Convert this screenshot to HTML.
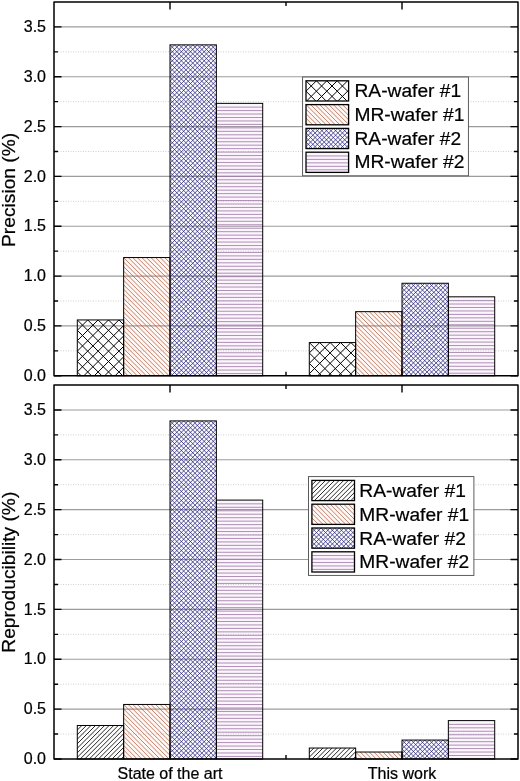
<!DOCTYPE html><html><head><meta charset="utf-8"><title>Chart</title>
<style>html,body{margin:0;padding:0;background:#fff}svg{display:block}text{font-family:"Liberation Sans", Arial, sans-serif;fill:#000;stroke:#000;stroke-width:0.22px}</style></head><body>
<svg width="520" height="781" viewBox="0 0 520 781">
<rect width="520" height="781" fill="#fff"/>
<line x1="58.0" x2="518.0" y1="350.83" y2="350.83" stroke="#d0d0d0" stroke-width="1" stroke-dasharray="1 1.5"/>
<line x1="54.0" x2="518.0" y1="325.92" y2="325.92" stroke="#9c9c9c" stroke-width="1.1"/>
<line x1="58.0" x2="518.0" y1="301.00" y2="301.00" stroke="#d0d0d0" stroke-width="1" stroke-dasharray="1 1.5"/>
<line x1="54.0" x2="518.0" y1="276.08" y2="276.08" stroke="#9c9c9c" stroke-width="1.1"/>
<line x1="58.0" x2="518.0" y1="251.17" y2="251.17" stroke="#d0d0d0" stroke-width="1" stroke-dasharray="1 1.5"/>
<line x1="54.0" x2="518.0" y1="226.25" y2="226.25" stroke="#9c9c9c" stroke-width="1.1"/>
<line x1="58.0" x2="518.0" y1="201.33" y2="201.33" stroke="#d0d0d0" stroke-width="1" stroke-dasharray="1 1.5"/>
<line x1="54.0" x2="518.0" y1="176.42" y2="176.42" stroke="#9c9c9c" stroke-width="1.1"/>
<line x1="58.0" x2="518.0" y1="151.50" y2="151.50" stroke="#d0d0d0" stroke-width="1" stroke-dasharray="1 1.5"/>
<line x1="54.0" x2="518.0" y1="126.58" y2="126.58" stroke="#9c9c9c" stroke-width="1.1"/>
<line x1="58.0" x2="518.0" y1="101.67" y2="101.67" stroke="#d0d0d0" stroke-width="1" stroke-dasharray="1 1.5"/>
<line x1="54.0" x2="518.0" y1="76.75" y2="76.75" stroke="#9c9c9c" stroke-width="1.1"/>
<line x1="58.0" x2="518.0" y1="51.83" y2="51.83" stroke="#d0d0d0" stroke-width="1" stroke-dasharray="1 1.5"/>
<line x1="54.0" x2="518.0" y1="26.92" y2="26.92" stroke="#9c9c9c" stroke-width="1.1"/>
<path d="M54.0 375.75h7.5M518.0 375.75h-7.5" stroke="#000" stroke-width="1.4"/>
<text x="46" y="380.95" font-size="16" text-anchor="end">0.0</text>
<path d="M54.0 350.83h4M518.0 350.83h-4" stroke="#000" stroke-width="1.4"/>
<path d="M54.0 325.92h7.5M518.0 325.92h-7.5" stroke="#000" stroke-width="1.4"/>
<text x="46" y="331.12" font-size="16" text-anchor="end">0.5</text>
<path d="M54.0 301.00h4M518.0 301.00h-4" stroke="#000" stroke-width="1.4"/>
<path d="M54.0 276.08h7.5M518.0 276.08h-7.5" stroke="#000" stroke-width="1.4"/>
<text x="46" y="281.28" font-size="16" text-anchor="end">1.0</text>
<path d="M54.0 251.17h4M518.0 251.17h-4" stroke="#000" stroke-width="1.4"/>
<path d="M54.0 226.25h7.5M518.0 226.25h-7.5" stroke="#000" stroke-width="1.4"/>
<text x="46" y="231.45" font-size="16" text-anchor="end">1.5</text>
<path d="M54.0 201.33h4M518.0 201.33h-4" stroke="#000" stroke-width="1.4"/>
<path d="M54.0 176.42h7.5M518.0 176.42h-7.5" stroke="#000" stroke-width="1.4"/>
<text x="46" y="181.62" font-size="16" text-anchor="end">2.0</text>
<path d="M54.0 151.50h4M518.0 151.50h-4" stroke="#000" stroke-width="1.4"/>
<path d="M54.0 126.58h7.5M518.0 126.58h-7.5" stroke="#000" stroke-width="1.4"/>
<text x="46" y="131.78" font-size="16" text-anchor="end">2.5</text>
<path d="M54.0 101.67h4M518.0 101.67h-4" stroke="#000" stroke-width="1.4"/>
<path d="M54.0 76.75h7.5M518.0 76.75h-7.5" stroke="#000" stroke-width="1.4"/>
<text x="46" y="81.95" font-size="16" text-anchor="end">3.0</text>
<path d="M54.0 51.83h4M518.0 51.83h-4" stroke="#000" stroke-width="1.4"/>
<path d="M54.0 26.92h7.5M518.0 26.92h-7.5" stroke="#000" stroke-width="1.4"/>
<text x="46" y="32.12" font-size="16" text-anchor="end">3.5</text>
<path d="M170 2.0v7.5M170 375.75v-7.5" stroke="#000" stroke-width="1.4"/>
<path d="M286 2.0v4M286 375.75v-4" stroke="#000" stroke-width="1.4"/>
<path d="M402 2.0v7.5M402 375.75v-7.5" stroke="#000" stroke-width="1.4"/>
<clipPath id="c1"><rect x="77.3" y="319.94" width="46.35" height="55.81"/></clipPath>
<path clip-path="url(#c1)" d="M14.9 319.94l55.81 55.81M25.3 319.94l55.81 55.81M35.7 319.94l55.81 55.81M46.1 319.94l55.81 55.81M56.5 319.94l55.81 55.81M66.9 319.94l55.81 55.81M77.3 319.94l55.81 55.81M87.7 319.94l55.81 55.81M98.1 319.94l55.81 55.81M108.5 319.94l55.81 55.81M118.9 319.94l55.81 55.81M77.3 319.94l-55.81 55.81M87.7 319.94l-55.81 55.81M98.1 319.94l-55.81 55.81M108.5 319.94l-55.81 55.81M118.9 319.94l-55.81 55.81M129.3 319.94l-55.81 55.81M139.7 319.94l-55.81 55.81M150.1 319.94l-55.81 55.81M160.5 319.94l-55.81 55.81M170.9 319.94l-55.81 55.81" stroke="#000" stroke-width="1.0" fill="none"/>
<rect x="77.3" y="319.94" width="46.35" height="55.81" fill="none" stroke="#000" stroke-width="1.0"/>
<clipPath id="c2"><rect x="123.65" y="257.55" width="46.35" height="118.2"/></clipPath>
<rect x="123.65" y="257.55" width="46.35" height="118.2" fill="#ff8855" fill-opacity="0.07"/>
<path clip-path="url(#c2)" d="M5.35 257.55l118.2 118.2M9.9 257.55l118.2 118.2M14.45 257.55l118.2 118.2M19 257.55l118.2 118.2M23.55 257.55l118.2 118.2M28.1 257.55l118.2 118.2M32.65 257.55l118.2 118.2M37.2 257.55l118.2 118.2M41.75 257.55l118.2 118.2M46.3 257.55l118.2 118.2M50.85 257.55l118.2 118.2M55.4 257.55l118.2 118.2M59.95 257.55l118.2 118.2M64.5 257.55l118.2 118.2M69.05 257.55l118.2 118.2M73.6 257.55l118.2 118.2M78.15 257.55l118.2 118.2M82.7 257.55l118.2 118.2M87.25 257.55l118.2 118.2M91.8 257.55l118.2 118.2M96.35 257.55l118.2 118.2M100.9 257.55l118.2 118.2M105.45 257.55l118.2 118.2M110 257.55l118.2 118.2M114.55 257.55l118.2 118.2M119.1 257.55l118.2 118.2M123.65 257.55l118.2 118.2M128.2 257.55l118.2 118.2M132.75 257.55l118.2 118.2M137.3 257.55l118.2 118.2M141.85 257.55l118.2 118.2M146.4 257.55l118.2 118.2M150.95 257.55l118.2 118.2M155.5 257.55l118.2 118.2M160.05 257.55l118.2 118.2M164.6 257.55l118.2 118.2M169.15 257.55l118.2 118.2" stroke="#ae553a" stroke-width="0.74" fill="none"/>
<rect x="123.65" y="257.55" width="46.35" height="118.2" fill="none" stroke="#000" stroke-width="1.0"/>
<clipPath id="c3"><rect x="170" y="44.86" width="46.35" height="330.89"/></clipPath>
<rect x="170" y="44.86" width="46.35" height="330.89" fill="#5040ff" fill-opacity="0.04"/>
<path clip-path="url(#c3)" d="M-162.15 44.86l330.89 330.89M-157.6 44.86l330.89 330.89M-153.05 44.86l330.89 330.89M-148.5 44.86l330.89 330.89M-143.95 44.86l330.89 330.89M-139.4 44.86l330.89 330.89M-134.85 44.86l330.89 330.89M-130.3 44.86l330.89 330.89M-125.75 44.86l330.89 330.89M-121.2 44.86l330.89 330.89M-116.65 44.86l330.89 330.89M-112.1 44.86l330.89 330.89M-107.55 44.86l330.89 330.89M-103 44.86l330.89 330.89M-98.45 44.86l330.89 330.89M-93.9 44.86l330.89 330.89M-89.35 44.86l330.89 330.89M-84.8 44.86l330.89 330.89M-80.25 44.86l330.89 330.89M-75.7 44.86l330.89 330.89M-71.15 44.86l330.89 330.89M-66.6 44.86l330.89 330.89M-62.05 44.86l330.89 330.89M-57.5 44.86l330.89 330.89M-52.95 44.86l330.89 330.89M-48.4 44.86l330.89 330.89M-43.85 44.86l330.89 330.89M-39.3 44.86l330.89 330.89M-34.75 44.86l330.89 330.89M-30.2 44.86l330.89 330.89M-25.65 44.86l330.89 330.89M-21.1 44.86l330.89 330.89M-16.55 44.86l330.89 330.89M-12 44.86l330.89 330.89M-7.45 44.86l330.89 330.89M-2.9 44.86l330.89 330.89M1.65 44.86l330.89 330.89M6.2 44.86l330.89 330.89M10.75 44.86l330.89 330.89M15.3 44.86l330.89 330.89M19.85 44.86l330.89 330.89M24.4 44.86l330.89 330.89M28.95 44.86l330.89 330.89M33.5 44.86l330.89 330.89M38.05 44.86l330.89 330.89M42.6 44.86l330.89 330.89M47.15 44.86l330.89 330.89M51.7 44.86l330.89 330.89M56.25 44.86l330.89 330.89M60.8 44.86l330.89 330.89M65.35 44.86l330.89 330.89M69.9 44.86l330.89 330.89M74.45 44.86l330.89 330.89M79 44.86l330.89 330.89M83.55 44.86l330.89 330.89M88.1 44.86l330.89 330.89M92.65 44.86l330.89 330.89M97.2 44.86l330.89 330.89M101.75 44.86l330.89 330.89M106.3 44.86l330.89 330.89M110.85 44.86l330.89 330.89M115.4 44.86l330.89 330.89M119.95 44.86l330.89 330.89M124.5 44.86l330.89 330.89M129.05 44.86l330.89 330.89M133.6 44.86l330.89 330.89M138.15 44.86l330.89 330.89M142.7 44.86l330.89 330.89M147.25 44.86l330.89 330.89M151.8 44.86l330.89 330.89M156.35 44.86l330.89 330.89M160.9 44.86l330.89 330.89M165.45 44.86l330.89 330.89M170 44.86l330.89 330.89M174.55 44.86l330.89 330.89M179.1 44.86l330.89 330.89M183.65 44.86l330.89 330.89M188.2 44.86l330.89 330.89M192.75 44.86l330.89 330.89M197.3 44.86l330.89 330.89M201.85 44.86l330.89 330.89M206.4 44.86l330.89 330.89M210.95 44.86l330.89 330.89M215.5 44.86l330.89 330.89M170 44.86l-330.89 330.89M174.55 44.86l-330.89 330.89M179.1 44.86l-330.89 330.89M183.65 44.86l-330.89 330.89M188.2 44.86l-330.89 330.89M192.75 44.86l-330.89 330.89M197.3 44.86l-330.89 330.89M201.85 44.86l-330.89 330.89M206.4 44.86l-330.89 330.89M210.95 44.86l-330.89 330.89M215.5 44.86l-330.89 330.89M220.05 44.86l-330.89 330.89M224.6 44.86l-330.89 330.89M229.15 44.86l-330.89 330.89M233.7 44.86l-330.89 330.89M238.25 44.86l-330.89 330.89M242.8 44.86l-330.89 330.89M247.35 44.86l-330.89 330.89M251.9 44.86l-330.89 330.89M256.45 44.86l-330.89 330.89M261 44.86l-330.89 330.89M265.55 44.86l-330.89 330.89M270.1 44.86l-330.89 330.89M274.65 44.86l-330.89 330.89M279.2 44.86l-330.89 330.89M283.75 44.86l-330.89 330.89M288.3 44.86l-330.89 330.89M292.85 44.86l-330.89 330.89M297.4 44.86l-330.89 330.89M301.95 44.86l-330.89 330.89M306.5 44.86l-330.89 330.89M311.05 44.86l-330.89 330.89M315.6 44.86l-330.89 330.89M320.15 44.86l-330.89 330.89M324.7 44.86l-330.89 330.89M329.25 44.86l-330.89 330.89M333.8 44.86l-330.89 330.89M338.35 44.86l-330.89 330.89M342.9 44.86l-330.89 330.89M347.45 44.86l-330.89 330.89M352 44.86l-330.89 330.89M356.55 44.86l-330.89 330.89M361.1 44.86l-330.89 330.89M365.65 44.86l-330.89 330.89M370.2 44.86l-330.89 330.89M374.75 44.86l-330.89 330.89M379.3 44.86l-330.89 330.89M383.85 44.86l-330.89 330.89M388.4 44.86l-330.89 330.89M392.95 44.86l-330.89 330.89M397.5 44.86l-330.89 330.89M402.05 44.86l-330.89 330.89M406.6 44.86l-330.89 330.89M411.15 44.86l-330.89 330.89M415.7 44.86l-330.89 330.89M420.25 44.86l-330.89 330.89M424.8 44.86l-330.89 330.89M429.35 44.86l-330.89 330.89M433.9 44.86l-330.89 330.89M438.45 44.86l-330.89 330.89M443 44.86l-330.89 330.89M447.55 44.86l-330.89 330.89M452.1 44.86l-330.89 330.89M456.65 44.86l-330.89 330.89M461.2 44.86l-330.89 330.89M465.75 44.86l-330.89 330.89M470.3 44.86l-330.89 330.89M474.85 44.86l-330.89 330.89M479.4 44.86l-330.89 330.89M483.95 44.86l-330.89 330.89M488.5 44.86l-330.89 330.89M493.05 44.86l-330.89 330.89M497.6 44.86l-330.89 330.89M502.15 44.86l-330.89 330.89M506.7 44.86l-330.89 330.89M511.25 44.86l-330.89 330.89M515.8 44.86l-330.89 330.89M520.35 44.86l-330.89 330.89M524.9 44.86l-330.89 330.89M529.45 44.86l-330.89 330.89M534 44.86l-330.89 330.89M538.55 44.86l-330.89 330.89M543.1 44.86l-330.89 330.89" stroke="#251f72" stroke-width="0.74" fill="none"/>
<rect x="170" y="44.86" width="46.35" height="330.89" fill="none" stroke="#000" stroke-width="1.0"/>
<clipPath id="c4"><rect x="216.35" y="103.36" width="46.35" height="272.39"/></clipPath>
<rect x="216.35" y="103.36" width="46.35" height="272.39" fill="#c070d8" fill-opacity="0.07"/>
<path clip-path="url(#c4)" d="M216.35 107.12h46.35M216.35 110.58h46.35M216.35 114.04h46.35M216.35 117.5h46.35M216.35 120.96h46.35M216.35 124.42h46.35M216.35 127.88h46.35M216.35 131.34h46.35M216.35 134.8h46.35M216.35 138.26h46.35M216.35 141.72h46.35M216.35 145.18h46.35M216.35 148.64h46.35M216.35 152.1h46.35M216.35 155.56h46.35M216.35 159.02h46.35M216.35 162.48h46.35M216.35 165.94h46.35M216.35 169.4h46.35M216.35 172.86h46.35M216.35 176.32h46.35M216.35 179.78h46.35M216.35 183.24h46.35M216.35 186.7h46.35M216.35 190.16h46.35M216.35 193.62h46.35M216.35 197.08h46.35M216.35 200.54h46.35M216.35 204h46.35M216.35 207.46h46.35M216.35 210.92h46.35M216.35 214.38h46.35M216.35 217.84h46.35M216.35 221.3h46.35M216.35 224.76h46.35M216.35 228.22h46.35M216.35 231.68h46.35M216.35 235.14h46.35M216.35 238.6h46.35M216.35 242.06h46.35M216.35 245.52h46.35M216.35 248.98h46.35M216.35 252.44h46.35M216.35 255.9h46.35M216.35 259.36h46.35M216.35 262.82h46.35M216.35 266.28h46.35M216.35 269.74h46.35M216.35 273.2h46.35M216.35 276.66h46.35M216.35 280.12h46.35M216.35 283.58h46.35M216.35 287.04h46.35M216.35 290.5h46.35M216.35 293.96h46.35M216.35 297.42h46.35M216.35 300.88h46.35M216.35 304.34h46.35M216.35 307.8h46.35M216.35 311.26h46.35M216.35 314.72h46.35M216.35 318.18h46.35M216.35 321.64h46.35M216.35 325.1h46.35M216.35 328.56h46.35M216.35 332.02h46.35M216.35 335.48h46.35M216.35 338.94h46.35M216.35 342.4h46.35M216.35 345.86h46.35M216.35 349.32h46.35M216.35 352.78h46.35M216.35 356.24h46.35M216.35 359.7h46.35M216.35 363.16h46.35M216.35 366.62h46.35M216.35 370.08h46.35M216.35 373.54h46.35" stroke="#a27cab" stroke-width="0.85" fill="none"/>
<rect x="216.35" y="103.36" width="46.35" height="272.39" fill="none" stroke="#000" stroke-width="1.0"/>
<clipPath id="c5"><rect x="309.3" y="342.56" width="46.35" height="33.19"/></clipPath>
<path clip-path="url(#c5)" d="M267.7 342.56l33.19 33.19M278.1 342.56l33.19 33.19M288.5 342.56l33.19 33.19M298.9 342.56l33.19 33.19M309.3 342.56l33.19 33.19M319.7 342.56l33.19 33.19M330.1 342.56l33.19 33.19M340.5 342.56l33.19 33.19M350.9 342.56l33.19 33.19M309.3 342.56l-33.19 33.19M319.7 342.56l-33.19 33.19M330.1 342.56l-33.19 33.19M340.5 342.56l-33.19 33.19M350.9 342.56l-33.19 33.19M361.3 342.56l-33.19 33.19M371.7 342.56l-33.19 33.19M382.1 342.56l-33.19 33.19" stroke="#000" stroke-width="1.0" fill="none"/>
<rect x="309.3" y="342.56" width="46.35" height="33.19" fill="none" stroke="#000" stroke-width="1.0"/>
<clipPath id="c6"><rect x="355.65" y="311.66" width="46.35" height="64.09"/></clipPath>
<rect x="355.65" y="311.66" width="46.35" height="64.09" fill="#ff8855" fill-opacity="0.07"/>
<path clip-path="url(#c6)" d="M287.4 311.66l64.09 64.09M291.95 311.66l64.09 64.09M296.5 311.66l64.09 64.09M301.05 311.66l64.09 64.09M305.6 311.66l64.09 64.09M310.15 311.66l64.09 64.09M314.7 311.66l64.09 64.09M319.25 311.66l64.09 64.09M323.8 311.66l64.09 64.09M328.35 311.66l64.09 64.09M332.9 311.66l64.09 64.09M337.45 311.66l64.09 64.09M342 311.66l64.09 64.09M346.55 311.66l64.09 64.09M351.1 311.66l64.09 64.09M355.65 311.66l64.09 64.09M360.2 311.66l64.09 64.09M364.75 311.66l64.09 64.09M369.3 311.66l64.09 64.09M373.85 311.66l64.09 64.09M378.4 311.66l64.09 64.09M382.95 311.66l64.09 64.09M387.5 311.66l64.09 64.09M392.05 311.66l64.09 64.09M396.6 311.66l64.09 64.09M401.15 311.66l64.09 64.09" stroke="#ae553a" stroke-width="0.74" fill="none"/>
<rect x="355.65" y="311.66" width="46.35" height="64.09" fill="none" stroke="#000" stroke-width="1.0"/>
<clipPath id="c7"><rect x="402" y="283.26" width="46.35" height="92.49"/></clipPath>
<rect x="402" y="283.26" width="46.35" height="92.49" fill="#5040ff" fill-opacity="0.04"/>
<path clip-path="url(#c7)" d="M306.45 283.26l92.49 92.49M311 283.26l92.49 92.49M315.55 283.26l92.49 92.49M320.1 283.26l92.49 92.49M324.65 283.26l92.49 92.49M329.2 283.26l92.49 92.49M333.75 283.26l92.49 92.49M338.3 283.26l92.49 92.49M342.85 283.26l92.49 92.49M347.4 283.26l92.49 92.49M351.95 283.26l92.49 92.49M356.5 283.26l92.49 92.49M361.05 283.26l92.49 92.49M365.6 283.26l92.49 92.49M370.15 283.26l92.49 92.49M374.7 283.26l92.49 92.49M379.25 283.26l92.49 92.49M383.8 283.26l92.49 92.49M388.35 283.26l92.49 92.49M392.9 283.26l92.49 92.49M397.45 283.26l92.49 92.49M402 283.26l92.49 92.49M406.55 283.26l92.49 92.49M411.1 283.26l92.49 92.49M415.65 283.26l92.49 92.49M420.2 283.26l92.49 92.49M424.75 283.26l92.49 92.49M429.3 283.26l92.49 92.49M433.85 283.26l92.49 92.49M438.4 283.26l92.49 92.49M442.95 283.26l92.49 92.49M447.5 283.26l92.49 92.49M402 283.26l-92.49 92.49M406.55 283.26l-92.49 92.49M411.1 283.26l-92.49 92.49M415.65 283.26l-92.49 92.49M420.2 283.26l-92.49 92.49M424.75 283.26l-92.49 92.49M429.3 283.26l-92.49 92.49M433.85 283.26l-92.49 92.49M438.4 283.26l-92.49 92.49M442.95 283.26l-92.49 92.49M447.5 283.26l-92.49 92.49M452.05 283.26l-92.49 92.49M456.6 283.26l-92.49 92.49M461.15 283.26l-92.49 92.49M465.7 283.26l-92.49 92.49M470.25 283.26l-92.49 92.49M474.8 283.26l-92.49 92.49M479.35 283.26l-92.49 92.49M483.9 283.26l-92.49 92.49M488.45 283.26l-92.49 92.49M493 283.26l-92.49 92.49M497.55 283.26l-92.49 92.49M502.1 283.26l-92.49 92.49M506.65 283.26l-92.49 92.49M511.2 283.26l-92.49 92.49M515.75 283.26l-92.49 92.49M520.3 283.26l-92.49 92.49M524.85 283.26l-92.49 92.49M529.4 283.26l-92.49 92.49M533.95 283.26l-92.49 92.49M538.5 283.26l-92.49 92.49" stroke="#251f72" stroke-width="0.74" fill="none"/>
<rect x="402" y="283.26" width="46.35" height="92.49" fill="none" stroke="#000" stroke-width="1.0"/>
<clipPath id="c8"><rect x="448.35" y="296.81" width="46.35" height="78.94"/></clipPath>
<rect x="448.35" y="296.81" width="46.35" height="78.94" fill="#c070d8" fill-opacity="0.07"/>
<path clip-path="url(#c8)" d="M448.35 300.57h46.35M448.35 304.03h46.35M448.35 307.49h46.35M448.35 310.95h46.35M448.35 314.41h46.35M448.35 317.87h46.35M448.35 321.33h46.35M448.35 324.79h46.35M448.35 328.25h46.35M448.35 331.71h46.35M448.35 335.17h46.35M448.35 338.63h46.35M448.35 342.09h46.35M448.35 345.55h46.35M448.35 349.01h46.35M448.35 352.47h46.35M448.35 355.93h46.35M448.35 359.39h46.35M448.35 362.85h46.35M448.35 366.31h46.35M448.35 369.77h46.35M448.35 373.23h46.35" stroke="#a27cab" stroke-width="0.85" fill="none"/>
<rect x="448.35" y="296.81" width="46.35" height="78.94" fill="none" stroke="#000" stroke-width="1.0"/>
<rect x="54.0" y="2.0" width="464.0" height="373.75" fill="none" stroke="#000" stroke-width="1.5" stroke-linejoin="round"/>
<text transform="translate(14.5 189.88) rotate(-90)" font-size="19.2" text-anchor="middle">Precision (%)</text>
<rect x="302.6" y="77" width="165.8" height="98.8" fill="#fff" stroke="#4a4a4a" stroke-width="0.9"/>
<clipPath id="c9"><rect x="306" y="80.8" width="42.6" height="20.2"/></clipPath>
<path clip-path="url(#c9)" d="M285.2 80.8l20.2 20.2M295.6 80.8l20.2 20.2M306 80.8l20.2 20.2M316.4 80.8l20.2 20.2M326.8 80.8l20.2 20.2M337.2 80.8l20.2 20.2M347.6 80.8l20.2 20.2M306 80.8l-20.2 20.2M316.4 80.8l-20.2 20.2M326.8 80.8l-20.2 20.2M337.2 80.8l-20.2 20.2M347.6 80.8l-20.2 20.2M358 80.8l-20.2 20.2M368.4 80.8l-20.2 20.2" stroke="#000" stroke-width="1.0" fill="none"/>
<rect x="306" y="80.8" width="42.6" height="20.2" fill="none" stroke="#000" stroke-width="1.3"/>
<text x="354.50" y="96.90" font-size="19.2">RA-wafer #1</text>
<clipPath id="c10"><rect x="306" y="104.6" width="42.6" height="20.2"/></clipPath>
<rect x="306" y="104.6" width="42.6" height="20.2" fill="#ff8855" fill-opacity="0.07"/>
<path clip-path="url(#c10)" d="M283.25 104.6l20.2 20.2M287.8 104.6l20.2 20.2M292.35 104.6l20.2 20.2M296.9 104.6l20.2 20.2M301.45 104.6l20.2 20.2M306 104.6l20.2 20.2M310.55 104.6l20.2 20.2M315.1 104.6l20.2 20.2M319.65 104.6l20.2 20.2M324.2 104.6l20.2 20.2M328.75 104.6l20.2 20.2M333.3 104.6l20.2 20.2M337.85 104.6l20.2 20.2M342.4 104.6l20.2 20.2M346.95 104.6l20.2 20.2" stroke="#ae553a" stroke-width="0.74" fill="none"/>
<rect x="306" y="104.6" width="42.6" height="20.2" fill="none" stroke="#000" stroke-width="1.3"/>
<text x="354.50" y="120.70" font-size="19.2">MR-wafer #1</text>
<clipPath id="c11"><rect x="306" y="128.4" width="42.6" height="20.2"/></clipPath>
<rect x="306" y="128.4" width="42.6" height="20.2" fill="#5040ff" fill-opacity="0.04"/>
<path clip-path="url(#c11)" d="M283.25 128.4l20.2 20.2M287.8 128.4l20.2 20.2M292.35 128.4l20.2 20.2M296.9 128.4l20.2 20.2M301.45 128.4l20.2 20.2M306 128.4l20.2 20.2M310.55 128.4l20.2 20.2M315.1 128.4l20.2 20.2M319.65 128.4l20.2 20.2M324.2 128.4l20.2 20.2M328.75 128.4l20.2 20.2M333.3 128.4l20.2 20.2M337.85 128.4l20.2 20.2M342.4 128.4l20.2 20.2M346.95 128.4l20.2 20.2M306 128.4l-20.2 20.2M310.55 128.4l-20.2 20.2M315.1 128.4l-20.2 20.2M319.65 128.4l-20.2 20.2M324.2 128.4l-20.2 20.2M328.75 128.4l-20.2 20.2M333.3 128.4l-20.2 20.2M337.85 128.4l-20.2 20.2M342.4 128.4l-20.2 20.2M346.95 128.4l-20.2 20.2M351.5 128.4l-20.2 20.2M356.05 128.4l-20.2 20.2M360.6 128.4l-20.2 20.2M365.15 128.4l-20.2 20.2" stroke="#251f72" stroke-width="0.74" fill="none"/>
<rect x="306" y="128.4" width="42.6" height="20.2" fill="none" stroke="#000" stroke-width="1.3"/>
<text x="354.50" y="144.50" font-size="19.2">RA-wafer #2</text>
<clipPath id="c12"><rect x="306" y="152.2" width="42.6" height="20.2"/></clipPath>
<rect x="306" y="152.2" width="42.6" height="20.2" fill="#c070d8" fill-opacity="0.07"/>
<path clip-path="url(#c12)" d="M306 155.96h42.6M306 159.42h42.6M306 162.88h42.6M306 166.34h42.6M306 169.8h42.6" stroke="#a27cab" stroke-width="0.85" fill="none"/>
<rect x="306" y="152.2" width="42.6" height="20.2" fill="none" stroke="#000" stroke-width="1.3"/>
<text x="354.50" y="168.30" font-size="19.2">MR-wafer #2</text>
<line x1="58.0" x2="518.0" y1="734.07" y2="734.07" stroke="#d0d0d0" stroke-width="1" stroke-dasharray="1 1.5"/>
<line x1="54.0" x2="518.0" y1="709.13" y2="709.13" stroke="#9c9c9c" stroke-width="1.1"/>
<line x1="58.0" x2="518.0" y1="684.20" y2="684.20" stroke="#d0d0d0" stroke-width="1" stroke-dasharray="1 1.5"/>
<line x1="54.0" x2="518.0" y1="659.27" y2="659.27" stroke="#9c9c9c" stroke-width="1.1"/>
<line x1="58.0" x2="518.0" y1="634.33" y2="634.33" stroke="#d0d0d0" stroke-width="1" stroke-dasharray="1 1.5"/>
<line x1="54.0" x2="518.0" y1="609.40" y2="609.40" stroke="#9c9c9c" stroke-width="1.1"/>
<line x1="58.0" x2="518.0" y1="584.47" y2="584.47" stroke="#d0d0d0" stroke-width="1" stroke-dasharray="1 1.5"/>
<line x1="54.0" x2="518.0" y1="559.53" y2="559.53" stroke="#9c9c9c" stroke-width="1.1"/>
<line x1="58.0" x2="518.0" y1="534.60" y2="534.60" stroke="#d0d0d0" stroke-width="1" stroke-dasharray="1 1.5"/>
<line x1="54.0" x2="518.0" y1="509.67" y2="509.67" stroke="#9c9c9c" stroke-width="1.1"/>
<line x1="58.0" x2="518.0" y1="484.73" y2="484.73" stroke="#d0d0d0" stroke-width="1" stroke-dasharray="1 1.5"/>
<line x1="54.0" x2="518.0" y1="459.80" y2="459.80" stroke="#9c9c9c" stroke-width="1.1"/>
<line x1="58.0" x2="518.0" y1="434.87" y2="434.87" stroke="#d0d0d0" stroke-width="1" stroke-dasharray="1 1.5"/>
<line x1="54.0" x2="518.0" y1="409.93" y2="409.93" stroke="#9c9c9c" stroke-width="1.1"/>
<path d="M54.0 759.00h7.5M518.0 759.00h-7.5" stroke="#000" stroke-width="1.4"/>
<text x="46" y="764.20" font-size="16" text-anchor="end">0.0</text>
<path d="M54.0 734.07h4M518.0 734.07h-4" stroke="#000" stroke-width="1.4"/>
<path d="M54.0 709.13h7.5M518.0 709.13h-7.5" stroke="#000" stroke-width="1.4"/>
<text x="46" y="714.33" font-size="16" text-anchor="end">0.5</text>
<path d="M54.0 684.20h4M518.0 684.20h-4" stroke="#000" stroke-width="1.4"/>
<path d="M54.0 659.27h7.5M518.0 659.27h-7.5" stroke="#000" stroke-width="1.4"/>
<text x="46" y="664.47" font-size="16" text-anchor="end">1.0</text>
<path d="M54.0 634.33h4M518.0 634.33h-4" stroke="#000" stroke-width="1.4"/>
<path d="M54.0 609.40h7.5M518.0 609.40h-7.5" stroke="#000" stroke-width="1.4"/>
<text x="46" y="614.60" font-size="16" text-anchor="end">1.5</text>
<path d="M54.0 584.47h4M518.0 584.47h-4" stroke="#000" stroke-width="1.4"/>
<path d="M54.0 559.53h7.5M518.0 559.53h-7.5" stroke="#000" stroke-width="1.4"/>
<text x="46" y="564.73" font-size="16" text-anchor="end">2.0</text>
<path d="M54.0 534.60h4M518.0 534.60h-4" stroke="#000" stroke-width="1.4"/>
<path d="M54.0 509.67h7.5M518.0 509.67h-7.5" stroke="#000" stroke-width="1.4"/>
<text x="46" y="514.87" font-size="16" text-anchor="end">2.5</text>
<path d="M54.0 484.73h4M518.0 484.73h-4" stroke="#000" stroke-width="1.4"/>
<path d="M54.0 459.80h7.5M518.0 459.80h-7.5" stroke="#000" stroke-width="1.4"/>
<text x="46" y="465.00" font-size="16" text-anchor="end">3.0</text>
<path d="M54.0 434.87h4M518.0 434.87h-4" stroke="#000" stroke-width="1.4"/>
<path d="M54.0 409.93h7.5M518.0 409.93h-7.5" stroke="#000" stroke-width="1.4"/>
<text x="46" y="415.13" font-size="16" text-anchor="end">3.5</text>
<path d="M170 385.0v7.5M170 759.0v-7.5" stroke="#000" stroke-width="1.4"/>
<path d="M286 385.0v4M286 759.0v-4" stroke="#000" stroke-width="1.4"/>
<path d="M402 385.0v7.5M402 759.0v-7.5" stroke="#000" stroke-width="1.4"/>
<clipPath id="c13"><rect x="77.3" y="725.49" width="46.35" height="33.51"/></clipPath>
<path clip-path="url(#c13)" d="M77.3 725.49l-33.51 33.51M81.85 725.49l-33.51 33.51M86.4 725.49l-33.51 33.51M90.95 725.49l-33.51 33.51M95.5 725.49l-33.51 33.51M100.05 725.49l-33.51 33.51M104.6 725.49l-33.51 33.51M109.15 725.49l-33.51 33.51M113.7 725.49l-33.51 33.51M118.25 725.49l-33.51 33.51M122.8 725.49l-33.51 33.51M127.35 725.49l-33.51 33.51M131.9 725.49l-33.51 33.51M136.45 725.49l-33.51 33.51M141 725.49l-33.51 33.51M145.55 725.49l-33.51 33.51M150.1 725.49l-33.51 33.51M154.65 725.49l-33.51 33.51" stroke="#000" stroke-width="0.85" fill="none"/>
<rect x="77.3" y="725.49" width="46.35" height="33.51" fill="none" stroke="#000" stroke-width="1.0"/>
<clipPath id="c14"><rect x="123.65" y="704.45" width="46.35" height="54.55"/></clipPath>
<rect x="123.65" y="704.45" width="46.35" height="54.55" fill="#ff8855" fill-opacity="0.07"/>
<path clip-path="url(#c14)" d="M69.05 704.45l54.55 54.55M73.6 704.45l54.55 54.55M78.15 704.45l54.55 54.55M82.7 704.45l54.55 54.55M87.25 704.45l54.55 54.55M91.8 704.45l54.55 54.55M96.35 704.45l54.55 54.55M100.9 704.45l54.55 54.55M105.45 704.45l54.55 54.55M110 704.45l54.55 54.55M114.55 704.45l54.55 54.55M119.1 704.45l54.55 54.55M123.65 704.45l54.55 54.55M128.2 704.45l54.55 54.55M132.75 704.45l54.55 54.55M137.3 704.45l54.55 54.55M141.85 704.45l54.55 54.55M146.4 704.45l54.55 54.55M150.95 704.45l54.55 54.55M155.5 704.45l54.55 54.55M160.05 704.45l54.55 54.55M164.6 704.45l54.55 54.55M169.15 704.45l54.55 54.55" stroke="#ae553a" stroke-width="0.74" fill="none"/>
<rect x="123.65" y="704.45" width="46.35" height="54.55" fill="none" stroke="#000" stroke-width="1.0"/>
<clipPath id="c15"><rect x="170" y="420.9" width="46.35" height="338.1"/></clipPath>
<rect x="170" y="420.9" width="46.35" height="338.1" fill="#5040ff" fill-opacity="0.04"/>
<path clip-path="url(#c15)" d="M-171.25 420.9l338.1 338.1M-166.7 420.9l338.1 338.1M-162.15 420.9l338.1 338.1M-157.6 420.9l338.1 338.1M-153.05 420.9l338.1 338.1M-148.5 420.9l338.1 338.1M-143.95 420.9l338.1 338.1M-139.4 420.9l338.1 338.1M-134.85 420.9l338.1 338.1M-130.3 420.9l338.1 338.1M-125.75 420.9l338.1 338.1M-121.2 420.9l338.1 338.1M-116.65 420.9l338.1 338.1M-112.1 420.9l338.1 338.1M-107.55 420.9l338.1 338.1M-103 420.9l338.1 338.1M-98.45 420.9l338.1 338.1M-93.9 420.9l338.1 338.1M-89.35 420.9l338.1 338.1M-84.8 420.9l338.1 338.1M-80.25 420.9l338.1 338.1M-75.7 420.9l338.1 338.1M-71.15 420.9l338.1 338.1M-66.6 420.9l338.1 338.1M-62.05 420.9l338.1 338.1M-57.5 420.9l338.1 338.1M-52.95 420.9l338.1 338.1M-48.4 420.9l338.1 338.1M-43.85 420.9l338.1 338.1M-39.3 420.9l338.1 338.1M-34.75 420.9l338.1 338.1M-30.2 420.9l338.1 338.1M-25.65 420.9l338.1 338.1M-21.1 420.9l338.1 338.1M-16.55 420.9l338.1 338.1M-12 420.9l338.1 338.1M-7.45 420.9l338.1 338.1M-2.9 420.9l338.1 338.1M1.65 420.9l338.1 338.1M6.2 420.9l338.1 338.1M10.75 420.9l338.1 338.1M15.3 420.9l338.1 338.1M19.85 420.9l338.1 338.1M24.4 420.9l338.1 338.1M28.95 420.9l338.1 338.1M33.5 420.9l338.1 338.1M38.05 420.9l338.1 338.1M42.6 420.9l338.1 338.1M47.15 420.9l338.1 338.1M51.7 420.9l338.1 338.1M56.25 420.9l338.1 338.1M60.8 420.9l338.1 338.1M65.35 420.9l338.1 338.1M69.9 420.9l338.1 338.1M74.45 420.9l338.1 338.1M79 420.9l338.1 338.1M83.55 420.9l338.1 338.1M88.1 420.9l338.1 338.1M92.65 420.9l338.1 338.1M97.2 420.9l338.1 338.1M101.75 420.9l338.1 338.1M106.3 420.9l338.1 338.1M110.85 420.9l338.1 338.1M115.4 420.9l338.1 338.1M119.95 420.9l338.1 338.1M124.5 420.9l338.1 338.1M129.05 420.9l338.1 338.1M133.6 420.9l338.1 338.1M138.15 420.9l338.1 338.1M142.7 420.9l338.1 338.1M147.25 420.9l338.1 338.1M151.8 420.9l338.1 338.1M156.35 420.9l338.1 338.1M160.9 420.9l338.1 338.1M165.45 420.9l338.1 338.1M170 420.9l338.1 338.1M174.55 420.9l338.1 338.1M179.1 420.9l338.1 338.1M183.65 420.9l338.1 338.1M188.2 420.9l338.1 338.1M192.75 420.9l338.1 338.1M197.3 420.9l338.1 338.1M201.85 420.9l338.1 338.1M206.4 420.9l338.1 338.1M210.95 420.9l338.1 338.1M215.5 420.9l338.1 338.1M170 420.9l-338.1 338.1M174.55 420.9l-338.1 338.1M179.1 420.9l-338.1 338.1M183.65 420.9l-338.1 338.1M188.2 420.9l-338.1 338.1M192.75 420.9l-338.1 338.1M197.3 420.9l-338.1 338.1M201.85 420.9l-338.1 338.1M206.4 420.9l-338.1 338.1M210.95 420.9l-338.1 338.1M215.5 420.9l-338.1 338.1M220.05 420.9l-338.1 338.1M224.6 420.9l-338.1 338.1M229.15 420.9l-338.1 338.1M233.7 420.9l-338.1 338.1M238.25 420.9l-338.1 338.1M242.8 420.9l-338.1 338.1M247.35 420.9l-338.1 338.1M251.9 420.9l-338.1 338.1M256.45 420.9l-338.1 338.1M261 420.9l-338.1 338.1M265.55 420.9l-338.1 338.1M270.1 420.9l-338.1 338.1M274.65 420.9l-338.1 338.1M279.2 420.9l-338.1 338.1M283.75 420.9l-338.1 338.1M288.3 420.9l-338.1 338.1M292.85 420.9l-338.1 338.1M297.4 420.9l-338.1 338.1M301.95 420.9l-338.1 338.1M306.5 420.9l-338.1 338.1M311.05 420.9l-338.1 338.1M315.6 420.9l-338.1 338.1M320.15 420.9l-338.1 338.1M324.7 420.9l-338.1 338.1M329.25 420.9l-338.1 338.1M333.8 420.9l-338.1 338.1M338.35 420.9l-338.1 338.1M342.9 420.9l-338.1 338.1M347.45 420.9l-338.1 338.1M352 420.9l-338.1 338.1M356.55 420.9l-338.1 338.1M361.1 420.9l-338.1 338.1M365.65 420.9l-338.1 338.1M370.2 420.9l-338.1 338.1M374.75 420.9l-338.1 338.1M379.3 420.9l-338.1 338.1M383.85 420.9l-338.1 338.1M388.4 420.9l-338.1 338.1M392.95 420.9l-338.1 338.1M397.5 420.9l-338.1 338.1M402.05 420.9l-338.1 338.1M406.6 420.9l-338.1 338.1M411.15 420.9l-338.1 338.1M415.7 420.9l-338.1 338.1M420.25 420.9l-338.1 338.1M424.8 420.9l-338.1 338.1M429.35 420.9l-338.1 338.1M433.9 420.9l-338.1 338.1M438.45 420.9l-338.1 338.1M443 420.9l-338.1 338.1M447.55 420.9l-338.1 338.1M452.1 420.9l-338.1 338.1M456.65 420.9l-338.1 338.1M461.2 420.9l-338.1 338.1M465.75 420.9l-338.1 338.1M470.3 420.9l-338.1 338.1M474.85 420.9l-338.1 338.1M479.4 420.9l-338.1 338.1M483.95 420.9l-338.1 338.1M488.5 420.9l-338.1 338.1M493.05 420.9l-338.1 338.1M497.6 420.9l-338.1 338.1M502.15 420.9l-338.1 338.1M506.7 420.9l-338.1 338.1M511.25 420.9l-338.1 338.1M515.8 420.9l-338.1 338.1M520.35 420.9l-338.1 338.1M524.9 420.9l-338.1 338.1M529.45 420.9l-338.1 338.1M534 420.9l-338.1 338.1M538.55 420.9l-338.1 338.1M543.1 420.9l-338.1 338.1M547.65 420.9l-338.1 338.1M552.2 420.9l-338.1 338.1" stroke="#251f72" stroke-width="0.74" fill="none"/>
<rect x="170" y="420.9" width="46.35" height="338.1" fill="none" stroke="#000" stroke-width="1.0"/>
<clipPath id="c16"><rect x="216.35" y="500.09" width="46.35" height="258.91"/></clipPath>
<rect x="216.35" y="500.09" width="46.35" height="258.91" fill="#c070d8" fill-opacity="0.07"/>
<path clip-path="url(#c16)" d="M216.35 503.85h46.35M216.35 507.31h46.35M216.35 510.77h46.35M216.35 514.23h46.35M216.35 517.69h46.35M216.35 521.15h46.35M216.35 524.61h46.35M216.35 528.07h46.35M216.35 531.53h46.35M216.35 534.99h46.35M216.35 538.45h46.35M216.35 541.91h46.35M216.35 545.37h46.35M216.35 548.83h46.35M216.35 552.29h46.35M216.35 555.75h46.35M216.35 559.21h46.35M216.35 562.67h46.35M216.35 566.13h46.35M216.35 569.59h46.35M216.35 573.05h46.35M216.35 576.51h46.35M216.35 579.97h46.35M216.35 583.43h46.35M216.35 586.89h46.35M216.35 590.35h46.35M216.35 593.81h46.35M216.35 597.27h46.35M216.35 600.73h46.35M216.35 604.19h46.35M216.35 607.65h46.35M216.35 611.11h46.35M216.35 614.57h46.35M216.35 618.03h46.35M216.35 621.49h46.35M216.35 624.95h46.35M216.35 628.41h46.35M216.35 631.87h46.35M216.35 635.33h46.35M216.35 638.79h46.35M216.35 642.25h46.35M216.35 645.71h46.35M216.35 649.17h46.35M216.35 652.63h46.35M216.35 656.09h46.35M216.35 659.55h46.35M216.35 663.01h46.35M216.35 666.47h46.35M216.35 669.93h46.35M216.35 673.39h46.35M216.35 676.85h46.35M216.35 680.31h46.35M216.35 683.77h46.35M216.35 687.23h46.35M216.35 690.69h46.35M216.35 694.15h46.35M216.35 697.61h46.35M216.35 701.07h46.35M216.35 704.53h46.35M216.35 707.99h46.35M216.35 711.45h46.35M216.35 714.91h46.35M216.35 718.37h46.35M216.35 721.83h46.35M216.35 725.29h46.35M216.35 728.75h46.35M216.35 732.21h46.35M216.35 735.67h46.35M216.35 739.13h46.35M216.35 742.59h46.35M216.35 746.05h46.35M216.35 749.51h46.35M216.35 752.97h46.35M216.35 756.43h46.35" stroke="#a27cab" stroke-width="0.85" fill="none"/>
<rect x="216.35" y="500.09" width="46.35" height="258.91" fill="none" stroke="#000" stroke-width="1.0"/>
<clipPath id="c17"><rect x="309.3" y="748.03" width="46.35" height="10.97"/></clipPath>
<path clip-path="url(#c17)" d="M309.3 748.03l-10.97 10.97M313.85 748.03l-10.97 10.97M318.4 748.03l-10.97 10.97M322.95 748.03l-10.97 10.97M327.5 748.03l-10.97 10.97M332.05 748.03l-10.97 10.97M336.6 748.03l-10.97 10.97M341.15 748.03l-10.97 10.97M345.7 748.03l-10.97 10.97M350.25 748.03l-10.97 10.97M354.8 748.03l-10.97 10.97M359.35 748.03l-10.97 10.97M363.9 748.03l-10.97 10.97" stroke="#000" stroke-width="0.85" fill="none"/>
<rect x="309.3" y="748.03" width="46.35" height="10.97" fill="none" stroke="#000" stroke-width="1.0"/>
<clipPath id="c18"><rect x="355.65" y="752.02" width="46.35" height="6.98"/></clipPath>
<rect x="355.65" y="752.02" width="46.35" height="6.98" fill="#ff8855" fill-opacity="0.07"/>
<path clip-path="url(#c18)" d="M346.55 752.02l6.98 6.98M351.1 752.02l6.98 6.98M355.65 752.02l6.98 6.98M360.2 752.02l6.98 6.98M364.75 752.02l6.98 6.98M369.3 752.02l6.98 6.98M373.85 752.02l6.98 6.98M378.4 752.02l6.98 6.98M382.95 752.02l6.98 6.98M387.5 752.02l6.98 6.98M392.05 752.02l6.98 6.98M396.6 752.02l6.98 6.98M401.15 752.02l6.98 6.98" stroke="#ae553a" stroke-width="0.74" fill="none"/>
<rect x="355.65" y="752.02" width="46.35" height="6.98" fill="none" stroke="#000" stroke-width="1.0"/>
<clipPath id="c19"><rect x="402" y="740.05" width="46.35" height="18.95"/></clipPath>
<rect x="402" y="740.05" width="46.35" height="18.95" fill="#5040ff" fill-opacity="0.04"/>
<path clip-path="url(#c19)" d="M379.25 740.05l18.95 18.95M383.8 740.05l18.95 18.95M388.35 740.05l18.95 18.95M392.9 740.05l18.95 18.95M397.45 740.05l18.95 18.95M402 740.05l18.95 18.95M406.55 740.05l18.95 18.95M411.1 740.05l18.95 18.95M415.65 740.05l18.95 18.95M420.2 740.05l18.95 18.95M424.75 740.05l18.95 18.95M429.3 740.05l18.95 18.95M433.85 740.05l18.95 18.95M438.4 740.05l18.95 18.95M442.95 740.05l18.95 18.95M447.5 740.05l18.95 18.95M402 740.05l-18.95 18.95M406.55 740.05l-18.95 18.95M411.1 740.05l-18.95 18.95M415.65 740.05l-18.95 18.95M420.2 740.05l-18.95 18.95M424.75 740.05l-18.95 18.95M429.3 740.05l-18.95 18.95M433.85 740.05l-18.95 18.95M438.4 740.05l-18.95 18.95M442.95 740.05l-18.95 18.95M447.5 740.05l-18.95 18.95M452.05 740.05l-18.95 18.95M456.6 740.05l-18.95 18.95M461.15 740.05l-18.95 18.95M465.7 740.05l-18.95 18.95" stroke="#251f72" stroke-width="0.74" fill="none"/>
<rect x="402" y="740.05" width="46.35" height="18.95" fill="none" stroke="#000" stroke-width="1.0"/>
<clipPath id="c20"><rect x="448.35" y="720.6" width="46.35" height="38.4"/></clipPath>
<rect x="448.35" y="720.6" width="46.35" height="38.4" fill="#c070d8" fill-opacity="0.07"/>
<path clip-path="url(#c20)" d="M448.35 724.36h46.35M448.35 727.82h46.35M448.35 731.28h46.35M448.35 734.74h46.35M448.35 738.2h46.35M448.35 741.66h46.35M448.35 745.12h46.35M448.35 748.58h46.35M448.35 752.04h46.35M448.35 755.5h46.35M448.35 758.96h46.35" stroke="#a27cab" stroke-width="0.85" fill="none"/>
<rect x="448.35" y="720.6" width="46.35" height="38.4" fill="none" stroke="#000" stroke-width="1.0"/>
<rect x="54.0" y="385.0" width="464.0" height="374.0" fill="none" stroke="#000" stroke-width="1.5" stroke-linejoin="round"/>
<text transform="translate(14.5 572.20) rotate(-90)" font-size="19.2" text-anchor="middle">Reproducibility (%)</text>
<rect x="308.5" y="476.6" width="165.4" height="98.8" fill="#fff" stroke="#4a4a4a" stroke-width="0.9"/>
<clipPath id="c21"><rect x="311.9" y="480.4" width="42.6" height="20.2"/></clipPath>
<path clip-path="url(#c21)" d="M311.9 480.4l-20.2 20.2M316.45 480.4l-20.2 20.2M321 480.4l-20.2 20.2M325.55 480.4l-20.2 20.2M330.1 480.4l-20.2 20.2M334.65 480.4l-20.2 20.2M339.2 480.4l-20.2 20.2M343.75 480.4l-20.2 20.2M348.3 480.4l-20.2 20.2M352.85 480.4l-20.2 20.2M357.4 480.4l-20.2 20.2M361.95 480.4l-20.2 20.2M366.5 480.4l-20.2 20.2M371.05 480.4l-20.2 20.2" stroke="#000" stroke-width="0.85" fill="none"/>
<rect x="311.9" y="480.4" width="42.6" height="20.2" fill="none" stroke="#000" stroke-width="1.3"/>
<text x="359.30" y="497.00" font-size="19.2">RA-wafer #1</text>
<clipPath id="c22"><rect x="311.9" y="504.2" width="42.6" height="20.2"/></clipPath>
<rect x="311.9" y="504.2" width="42.6" height="20.2" fill="#ff8855" fill-opacity="0.07"/>
<path clip-path="url(#c22)" d="M289.15 504.2l20.2 20.2M293.7 504.2l20.2 20.2M298.25 504.2l20.2 20.2M302.8 504.2l20.2 20.2M307.35 504.2l20.2 20.2M311.9 504.2l20.2 20.2M316.45 504.2l20.2 20.2M321 504.2l20.2 20.2M325.55 504.2l20.2 20.2M330.1 504.2l20.2 20.2M334.65 504.2l20.2 20.2M339.2 504.2l20.2 20.2M343.75 504.2l20.2 20.2M348.3 504.2l20.2 20.2M352.85 504.2l20.2 20.2" stroke="#ae553a" stroke-width="0.74" fill="none"/>
<rect x="311.9" y="504.2" width="42.6" height="20.2" fill="none" stroke="#000" stroke-width="1.3"/>
<text x="359.30" y="520.80" font-size="19.2">MR-wafer #1</text>
<clipPath id="c23"><rect x="311.9" y="528" width="42.6" height="20.2"/></clipPath>
<rect x="311.9" y="528" width="42.6" height="20.2" fill="#5040ff" fill-opacity="0.04"/>
<path clip-path="url(#c23)" d="M289.15 528l20.2 20.2M293.7 528l20.2 20.2M298.25 528l20.2 20.2M302.8 528l20.2 20.2M307.35 528l20.2 20.2M311.9 528l20.2 20.2M316.45 528l20.2 20.2M321 528l20.2 20.2M325.55 528l20.2 20.2M330.1 528l20.2 20.2M334.65 528l20.2 20.2M339.2 528l20.2 20.2M343.75 528l20.2 20.2M348.3 528l20.2 20.2M352.85 528l20.2 20.2M311.9 528l-20.2 20.2M316.45 528l-20.2 20.2M321 528l-20.2 20.2M325.55 528l-20.2 20.2M330.1 528l-20.2 20.2M334.65 528l-20.2 20.2M339.2 528l-20.2 20.2M343.75 528l-20.2 20.2M348.3 528l-20.2 20.2M352.85 528l-20.2 20.2M357.4 528l-20.2 20.2M361.95 528l-20.2 20.2M366.5 528l-20.2 20.2M371.05 528l-20.2 20.2" stroke="#251f72" stroke-width="0.74" fill="none"/>
<rect x="311.9" y="528" width="42.6" height="20.2" fill="none" stroke="#000" stroke-width="1.3"/>
<text x="359.30" y="544.60" font-size="19.2">RA-wafer #2</text>
<clipPath id="c24"><rect x="311.9" y="551.8" width="42.6" height="20.2"/></clipPath>
<rect x="311.9" y="551.8" width="42.6" height="20.2" fill="#c070d8" fill-opacity="0.07"/>
<path clip-path="url(#c24)" d="M311.9 555.56h42.6M311.9 559.02h42.6M311.9 562.48h42.6M311.9 565.94h42.6M311.9 569.4h42.6" stroke="#a27cab" stroke-width="0.85" fill="none"/>
<rect x="311.9" y="551.8" width="42.6" height="20.2" fill="none" stroke="#000" stroke-width="1.3"/>
<text x="359.30" y="568.40" font-size="19.2">MR-wafer #2</text>
<text x="170" y="779.3" font-size="16" text-anchor="middle">State of the art</text>
<text x="402" y="779.3" font-size="16" text-anchor="middle">This work</text>
</svg></body></html>
